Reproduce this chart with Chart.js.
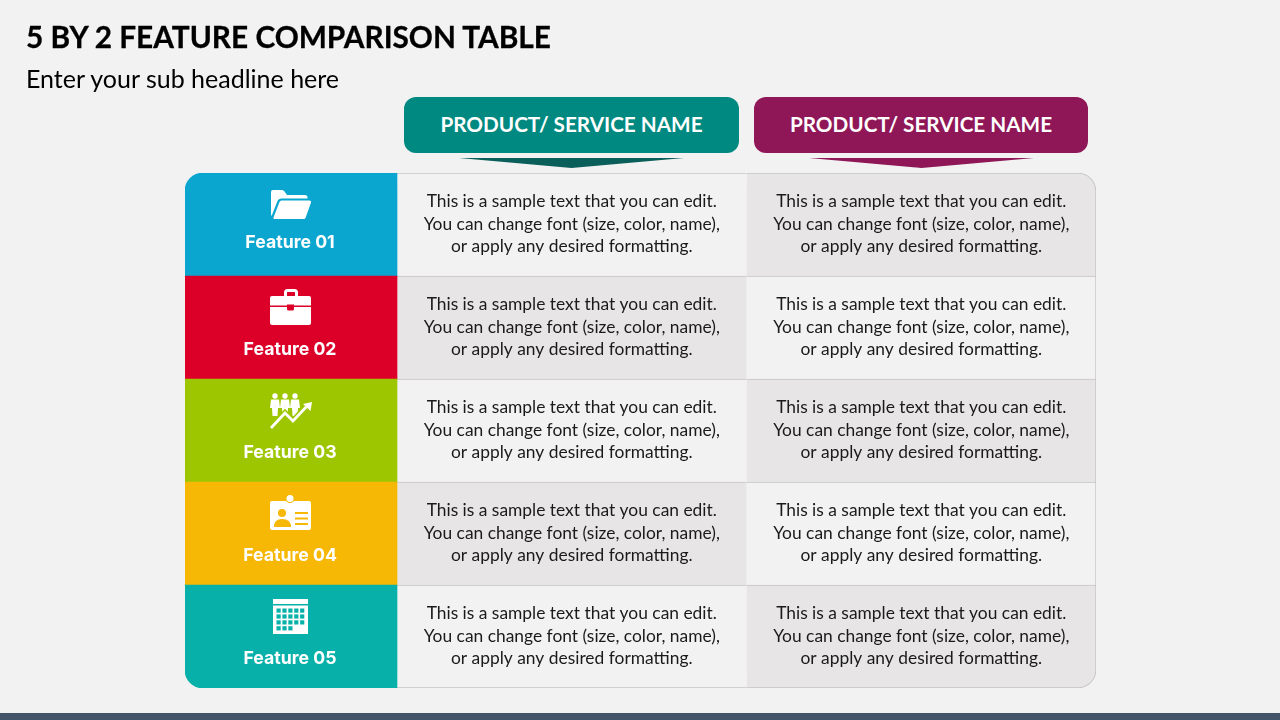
<!DOCTYPE html>
<html lang="en">
<head>
    <meta charset="UTF-8">
    <title>5 BY 2 FEATURE COMPARISON TABLE</title>
    <script src="https://cdn.jsdelivr.net/npm/chart.js"></script>
    <style>
        html, body {
            margin: 0;
            padding: 0;
            width: 1280px;
            height: 720px;
            overflow: hidden;
            background-color: #f2f2f2;
            font-family: Lato, sans-serif;
        }
        canvas { position: absolute; left: 0; top: 0; }
        h1, h2 { position: absolute; margin: 0; white-space: nowrap; color: #000; }
        h1 { left: 26px; top: 17px; font-size: 29.8px; line-height: 40px; font-weight: 700; -webkit-text-stroke: 0.3px #000; }
        h2 { left: 26px; top: 62px; font-size: 25px; line-height: 32px; font-weight: 400; }
        .product {
            position: absolute;
            top: 97px;
            height: 56px;
            line-height: 55px;
            border-radius: 12px;
            color: #fff;
            font-size: 20.7px;
            font-weight: 700;
            text-align: center;
            white-space: nowrap;
        }
        .pointer {
            position: absolute;
            top: 158px;
            width: 225px;
            height: 10px;
            clip-path: polygon(0 0, 100% 0, 50% 100%);
        }
        .footer { position: absolute; left: 0; top: 713px; width: 1280px; height: 7px; background-color: #44546a; }
    </style>
</head>
<body>
<canvas id="tableChart" width="1280" height="720"></canvas>
<h1>5 BY 2 FEATURE COMPARISON TABLE</h1>
<h2>Enter your sub headline here</h2>
<div class="product" style="left:404px;width:335px;background-color:#008980">PRODUCT/ SERVICE NAME</div>
<div class="pointer" style="left:459px;background-color:#0b5f5a"></div>
<div class="product" style="left:754px;width:334px;background-color:#8f1657">PRODUCT/ SERVICE NAME</div>
<div class="pointer" style="left:809px;background-color:#8f1657"></div>
<div class="footer"></div>
<script>
    // Table content
    const features = ["Feature 01", "Feature 02", "Feature 03", "Feature 04", "Feature 05"];
    const productA = [1, 1, 1, 1, 1];
    const productB = [1, 1, 1, 1, 1];
    const cellText = [
        "This is a sample text that you can edit.",
        "You can change font (size, color, name),",
        "or apply any desired formatting."
    ];
    const featureColors = ["#0ba6cf", "#dc0029", "#9dc600", "#f7b705", "#07b1aa"];
    const iconNames = ["folder", "briefcase", "growth", "badge", "calendar"];

    // Feature column sits left of zero on the x scale
    const xMin = -0.6066;
    const lightCell = "#f2f2f2";
    const greyCell = "#e7e5e5";
    const lineColor = "#c4c4c4";
    const lastRow = features.length - 1;

    // Icons, local coordinates from top left of the icon box
    function drawIcon(c, name, x, y, bg) {
        c.save();
        c.translate(x, y);
        c.fillStyle = "#fff";
        c.strokeStyle = "#fff";
        if (name === "folder") {
            c.fill(new Path2D("M0 2 Q0 0 2 0 H11 Q12.5 0 13.5 1.5 L16 5 H34 Q36.5 5 36.5 7.5 V8.5 H10 Q7.5 8.5 6.5 11 L0.6 26 Q0 25 0 24 Z"));
            c.fill(new Path2D("M10.5 10.5 H38.5 Q40.5 10.5 40 12.5 L34.5 28 Q34 29 33 29 H3.5 Q2 29 2.5 27.5 L8.5 12 Q9 10.5 10.5 10.5 Z"));
        } else if (name === "briefcase") {
            c.lineWidth = 3;
            c.beginPath();
            c.roundRect(15.5, 1.5, 11, 8, 2);
            c.stroke();
            c.fill(new Path2D("M2 7 H39 Q41 7 41 9 V16.5 H24 V15.5 H17 V16.5 H0 V9 Q0 7 2 7 Z"));
            c.fill(new Path2D("M0 18 H17 V20 Q17 21.5 18.5 21.5 H22.5 Q24 21.5 24 20 V18 H41 V34 Q41 36 39 36 H2 Q0 36 0 34 Z"));
        } else if (name === "growth") {
            [6, 16, 26].forEach(px => {
                c.beginPath();
                c.arc(px, 4, 2.7, 0, Math.PI * 2);
                c.fill();
                c.fill(new Path2D(`M${px - 4} 7.5 H${px + 4} L${px + 5} 16 L${px + 3} 16 L${px + 2.5} 24 H${px - 2.5} L${px - 3} 16 L${px - 5} 16 Z`));
            });
            c.strokeStyle = bg;
            c.lineWidth = 6;
            c.beginPath();
            c.moveTo(2, 36); c.lineTo(16, 21); c.lineTo(24, 29); c.lineTo(39, 13);
            c.stroke();
            c.strokeStyle = "#fff";
            c.lineWidth = 2.8;
            c.beginPath();
            c.moveTo(2, 36); c.lineTo(16, 21); c.lineTo(24, 29); c.lineTo(39, 13);
            c.stroke();
            c.fill(new Path2D("M34 12 L43 10 L41.5 19 Z"));
        } else if (name === "badge") {
            c.beginPath();
            c.roundRect(0, 6, 41, 29, 2);
            c.fill();
            c.beginPath();
            c.arc(20, 3.5, 4.6, 0, Math.PI * 2);
            c.fillStyle = bg;
            c.fill();
            c.beginPath();
            c.arc(20, 3.5, 3.5, 0, Math.PI * 2);
            c.fillStyle = "#fff";
            c.fill();
            c.fillStyle = bg;
            c.beginPath();
            c.arc(12, 18, 4, 0, Math.PI * 2);
            c.fill();
            c.fill(new Path2D("M4 32 Q4 24 12 24 Q21 24 21 32 Z"));
            [18, 23.5, 29].forEach(ly => c.fillRect(25, ly - 1, 13, 2));
        } else if (name === "calendar") {
            c.fillRect(0, 0, 35, 5);
            c.fillRect(0, 6.5, 35, 28.5);
            c.fillStyle = bg;
            for (let r = 0; r < 4; r++) {
                for (let k = 0; k < (r === 3 ? 3 : 5); k++) {
                    c.fillRect(3.5 + k * 5.9, 9.5 + r * 5.9, 4.2, 4.2);
                }
            }
        }
        c.restore();
    }

    const iconOffsets = [[86, 17], [85, 13], [84, 13], [85, 13], [88, 14]];
    const labelOffsets = [70, 74, 74, 74, 74];
    const textOffsets = [28, 51, 73];

    // Text and icons are placed from the bars the library has laid out
    const tableText = {
        id: "tableText",
        afterDatasetsDraw(chart) {
            const c = chart.ctx;
            c.save();
            c.textAlign = "center";
            c.textBaseline = "middle";
            c.font = "700 17.7px Inter, sans-serif";
            c.fillStyle = "#fff";
            chart.getDatasetMeta(0).data.forEach((bar, i) => {
                const top = bar.y - bar.height / 2;
                c.fillText(features[i], 290, top + labelOffsets[i]);
                drawIcon(c, iconNames[i], bar.x + iconOffsets[i][0], top + iconOffsets[i][1], featureColors[i]);
            });
            c.font = "17.4px Lato, sans-serif";
            c.fillStyle = "#1a1a1a";
            [1, 2].forEach(d => {
                chart.getDatasetMeta(d).data.forEach(bar => {
                    const top = bar.y - bar.height / 2;
                    const cx = (bar.x + bar.base) / 2;
                    cellText.forEach((line, k) => c.fillText(line, cx, top + textOffsets[k]));
                });
            });
            c.restore();
        }
    };

    function cellBorder(isLast) {
        return ctx => ({ top: 1, left: 1, right: isLast ? 1 : 0, bottom: ctx.dataIndex === lastRow ? 1 : 0 });
    }

    new Chart(document.getElementById("tableChart"), {
        type: "bar",
        data: {
            labels: features,
            datasets: [
                {
                    label: "Feature",
                    data: features.map(() => [xMin, 0]),
                    backgroundColor: featureColors,
                    borderWidth: 0,
                    borderSkipped: false,
                    borderRadius: ctx => ({
                        topLeft: ctx.dataIndex === 0 ? 18 : 0,
                        bottomLeft: ctx.dataIndex === lastRow ? 18 : 0,
                        topRight: 0,
                        bottomRight: 0
                    })
                },
                {
                    label: "Product A",
                    data: productA,
                    backgroundColor: ctx => ctx.dataIndex % 2 ? greyCell : lightCell,
                    borderColor: lineColor,
                    borderWidth: cellBorder(false)
                },
                {
                    label: "Product B",
                    data: productB,
                    backgroundColor: ctx => ctx.dataIndex % 2 ? lightCell : greyCell,
                    borderColor: lineColor,
                    borderWidth: cellBorder(true),
                    borderRadius: ctx => ({
                        topLeft: 0, bottomLeft: 0,
                        topRight: ctx.dataIndex === 0 ? 18 : 0,
                        bottomRight: ctx.dataIndex === lastRow ? 18 : 0
                    })
                }
            ]
        },
        options: {
            indexAxis: "y",
            responsive: false,
            animation: false,
            events: [],
            layout: { padding: { left: 185, right: 184, top: 173, bottom: 32 } },
            barPercentage: 1,
            categoryPercentage: 1,
            plugins: { legend: { display: false }, tooltip: { enabled: false } },
            scales: {
                x: { display: false, stacked: true, min: xMin, max: 2 },
                y: { display: false, stacked: true }
            }
        },
        plugins: [tableText]
    });
</script>
</body>
</html>
